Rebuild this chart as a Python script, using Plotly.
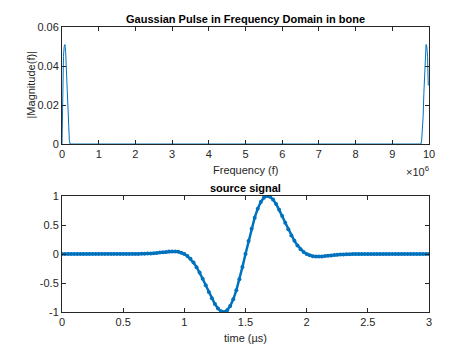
import plotly.graph_objects as go

# ---------------- data ----------------
# Top panel: |Magnitude(f)| spectrum (frequency in Hz)
freq_hz = [0.00e6, 0.02e6, 0.04e6, 0.06e6, 0.08e6, 0.10e6, 0.12e6, 0.14e6, 0.16e6,
           0.18e6, 0.20e6, 0.22e6, 0.30e6, 9.70e6, 9.78e6, 9.80e6, 9.82e6, 9.84e6,
           9.86e6, 9.88e6, 9.90e6, 9.92e6, 9.94e6, 9.96e6, 9.98e6]
magnitude = [0.000, 0.030, 0.045, 0.050, 0.051, 0.047, 0.038, 0.026, 0.014,
             0.006, 0.002, 0.000, 0.000, 0.000, 0.000, 0.002, 0.006, 0.014,
             0.026, 0.038, 0.047, 0.051, 0.050, 0.045, 0.030]

# Bottom panel: source signal, time in microseconds
time_us = [round(i * 0.025, 3) for i in range(121)]
signal = (
    [0.0] * 24 +
    [0.001, 0.002, 0.003, 0.005, 0.007, 0.010, 0.014, 0.019, 0.024, 0.030,
     0.036, 0.041, 0.044, 0.043, 0.037, 0.023, 0.000, -0.035, -0.084, -0.148,
     -0.227, -0.321, -0.426, -0.539, -0.654, -0.765, -0.863, -0.940, -0.988, -0.999,
     -0.970, -0.897, -0.781, -0.626, -0.437, -0.225, 0.000, 0.225, 0.437, 0.626,
     0.781, 0.897, 0.970, 0.999, 0.988, 0.940, 0.863, 0.765, 0.654, 0.539,
     0.426, 0.321, 0.227, 0.148, 0.084, 0.035, 0.000, -0.023, -0.037, -0.043,
     -0.044, -0.041, -0.036, -0.030, -0.024, -0.019, -0.014, -0.010, -0.007, -0.005,
     -0.003, -0.002, -0.001] +
    [0.0] * 24
)

top_xtick_vals = [0, 1e6, 2e6, 3e6, 4e6, 5e6, 6e6, 7e6, 8e6, 9e6, 10e6]
top_xtick_text = ["0", "1", "2", "3", "4", "5", "6", "7", "8", "9", "10"]
top_ytick_vals = [0, 0.02, 0.04, 0.06]
top_ytick_text = ["0", "0.02", "0.04", "0.06"]
bot_xtick_vals = [0, 0.5, 1, 1.5, 2, 2.5, 3]
bot_xtick_text = ["0", "0.5", "1", "1.5", "2", "2.5", "3"]
bot_ytick_vals = [-1, -0.5, 0, 0.5, 1]
bot_ytick_text = ["-1", "-0.5", "0", "0.5", "1"]

# ---------------- layout helpers ----------------
W, H = 474, 355
def px(x):
    return x / W
def py(y):
    return 1 - y / H

FONT = "Liberation Sans, Arial, Helvetica, sans-serif"
BLUE = "#0072BD"
AX = "#262626"

fig = go.Figure()
fig.add_trace(go.Scatter(x=freq_hz, y=magnitude, mode="lines",
                         line=dict(color=BLUE, width=1), xaxis="x", yaxis="y",
                         showlegend=False))
fig.add_trace(go.Scatter(x=time_us, y=signal, mode="lines+markers",
                         line=dict(color=BLUE, width=2.5),
                         marker=dict(color=BLUE, size=4),
                         xaxis="x2", yaxis="y2", showlegend=False))

axis_common = dict(showgrid=False, zeroline=False, showline=True, linecolor=AX,
                   linewidth=1, mirror="ticks", ticks="inside", ticklen=4,
                   tickcolor=AX, tickwidth=1, automargin=False,
                   tickfont=dict(family=FONT, size=11, color=AX))

left, right = px(62), px(429)
fig.update_layout(
    width=W, height=H,
    margin=dict(l=0, r=0, t=0, b=0, pad=0, autoexpand=False),
    paper_bgcolor="white", plot_bgcolor="white",
    xaxis=dict(domain=[left, right], range=[0, 10e6], anchor="y",
               tickvals=top_xtick_vals, ticktext=top_xtick_text, **axis_common),
    yaxis=dict(domain=[py(144), py(27)], range=[0, 0.06], anchor="x",
               tickvals=top_ytick_vals, ticktext=top_ytick_text, **axis_common),
    xaxis2=dict(domain=[left, right], range=[0, 3], anchor="y2",
                tickvals=bot_xtick_vals, ticktext=bot_xtick_text, **axis_common),
    yaxis2=dict(domain=[py(312), py(196)], range=[-1, 1], anchor="x2",
                tickvals=bot_ytick_vals, ticktext=bot_ytick_text, **axis_common),
)

def note(text, x, y, size=11, bold=False, angle=0, color=AX, xanchor="center"):
    if bold:
        text = "<b>" + text + "</b>"
    fig.add_annotation(text=text, x=px(x), y=py(y), xref="paper", yref="paper",
                       showarrow=False, textangle=angle, xanchor=xanchor,
                       yanchor="middle",
                       font=dict(family=FONT, size=size, color=color))

note("Gaussian Pulse in Frequency Domain in bone", 245.5, 19, size=11, bold=True, color="black")
note("Frequency (f)", 245.5, 170)
note("|Magnitude(f)|", 30, 85.5, angle=-90)
note("\u00d710<sup>6</sup>", 417, 171, size=11)
note("source signal", 245.5, 188, size=11, bold=True, color="black")
note("time (\u00b5s)", 245.5, 338)

fig.write_html("out.html",
               config={"displayModeBar": False, "staticPlot": True},
               post_script="document.body.style.margin='0';document.body.style.overflow='hidden';")
